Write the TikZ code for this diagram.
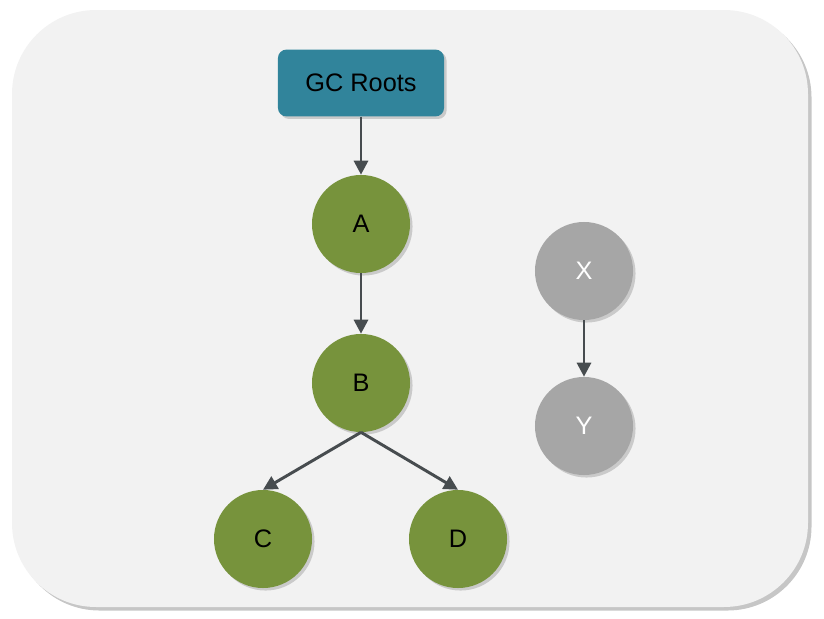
\documentclass[tikz,border=0pt]{standalone}
\usepackage{fontspec}
\setmainfont{Liberation Sans}
\usetikzlibrary{arrows.meta,shadows}
\definecolor{panel}{HTML}{F2F2F2}
\definecolor{rootc}{HTML}{31849B}
\definecolor{live}{HTML}{77933C}
\definecolor{dead}{HTML}{A6A6A6}
\definecolor{edge}{HTML}{474C4F}

\begin{document}
\begin{tikzpicture}[x=0.025cm,y=-0.025cm,
    obj/.style={circle, minimum size=2.45cm, inner sep=0pt, font=\fontsize{18}{20}\selectfont,
        drop shadow={shadow xshift=1.8pt, shadow yshift=-1.8pt, opacity=0.35}},
    ref/.style={-{Triangle[length=10pt,width=10pt]}, draw=edge, line width=2.1pt}]
    \useasboundingbox (0,0) rectangle (824,619);
    \fill[panel, rounded corners=2.1cm, drop shadow={shadow xshift=2.5pt, shadow yshift=-2.5pt, opacity=0.45}]
        (12,10) rectangle (808,607);
    \node[fill=rootc, rounded corners=6pt, minimum width=4.15cm, minimum height=1.67cm,
        font=\fontsize{18}{20}\selectfont,
        drop shadow={shadow xshift=1.8pt, shadow yshift=-1.8pt, opacity=0.35}] at(361,83)(gc){GC Roots};
    \node[obj, fill=live] at(361,224)(a){A};
    \node[obj, fill=live] at(361,383)(b){B};
    \node[obj, fill=live] at(263,539)(c){C};
    \node[obj, fill=live] at(458,539)(d){D};
    \node[obj, fill=dead, text=white] at(584,271)(x){X};
    \node[obj, fill=dead, text=white] at(584,426)(y){Y};
    \draw[ref] (gc) -- (a);
    \draw[ref] (a) -- (b);
    \draw[ref] (b.south) -- (c.north);
    \draw[ref] (b.south) -- (d.north);
    \draw[ref] (x) -- (y);
\end{tikzpicture}
\end{document}
